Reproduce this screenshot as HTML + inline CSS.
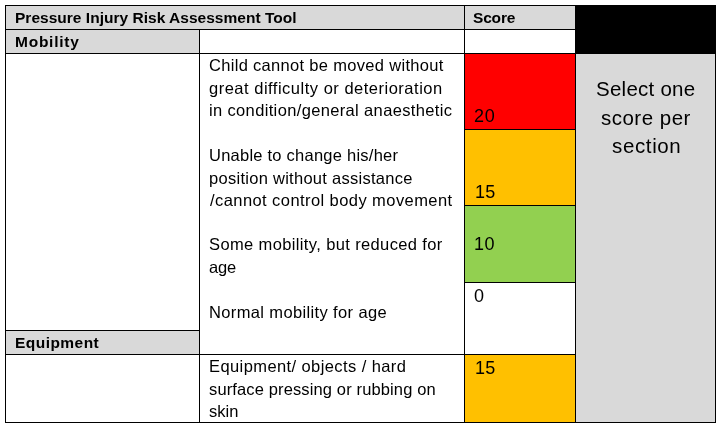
<!DOCTYPE html>
<html><head><meta charset="utf-8"><style>
html,body{margin:0;padding:0;background:#fff;width:721px;height:427px;overflow:hidden;position:relative}
.b{position:absolute}
.t{position:absolute;white-space:pre;will-change:transform;font-family:"Liberation Sans",sans-serif;color:#000}
</style></head><body>
<div class="b" style="left:6px;top:6px;width:569px;height:23px;background:#d9d9d9"></div><div class="b" style="left:6px;top:30px;width:193px;height:23px;background:#d9d9d9"></div><div class="b" style="left:6px;top:331px;width:193px;height:23px;background:#d9d9d9"></div><div class="b" style="left:575px;top:5px;width:141px;height:49px;background:#000"></div><div class="b" style="left:465px;top:54px;width:110px;height:75px;background:#ff0000"></div><div class="b" style="left:465px;top:130px;width:110px;height:75px;background:#ffc000"></div><div class="b" style="left:465px;top:206px;width:110px;height:76px;background:#92d050"></div><div class="b" style="left:465px;top:355px;width:110px;height:67px;background:#ffc000"></div><div class="b" style="left:576px;top:54px;width:139px;height:368px;background:#d9d9d9"></div><div class="b" style="left:5px;top:5px;width:711px;height:1px;background:#000"></div><div class="b" style="left:5px;top:422px;width:711px;height:1px;background:#000"></div><div class="b" style="left:5px;top:5px;width:1px;height:418px;background:#000"></div><div class="b" style="left:715px;top:5px;width:1px;height:418px;background:#000"></div><div class="b" style="left:5px;top:29px;width:571px;height:1px;background:#000"></div><div class="b" style="left:5px;top:53px;width:711px;height:1px;background:#000"></div><div class="b" style="left:464px;top:129px;width:112px;height:1px;background:#000"></div><div class="b" style="left:464px;top:205px;width:112px;height:1px;background:#000"></div><div class="b" style="left:464px;top:282px;width:112px;height:1px;background:#000"></div><div class="b" style="left:5px;top:330px;width:195px;height:1px;background:#000"></div><div class="b" style="left:5px;top:354px;width:571px;height:1px;background:#000"></div><div class="b" style="left:199px;top:29px;width:1px;height:394px;background:#000"></div><div class="b" style="left:464px;top:5px;width:1px;height:418px;background:#000"></div><div class="b" style="left:575px;top:5px;width:1px;height:418px;background:#000"></div>
<div class="t" style="left:14.90px;top:9.68px;font-size:15.5px;line-height:15.5px;font-weight:700;letter-spacing:0.020px">Pressure Injury Risk Assessment Tool</div><div class="t" style="left:473.30px;top:10.48px;font-size:15.5px;line-height:15.5px;font-weight:700;letter-spacing:-0.175px">Score</div><div class="t" style="left:14.90px;top:34.48px;font-size:15.5px;line-height:15.5px;font-weight:700;letter-spacing:0.757px">Mobility</div><div class="t" style="left:14.80px;top:335.28px;font-size:15.5px;line-height:15.5px;font-weight:700;letter-spacing:0.463px">Equipment</div><div class="t" style="left:208.80px;top:56.93px;font-size:16.5px;line-height:16.5px;font-weight:400;letter-spacing:0.311px">Child cannot be moved without</div><div class="t" style="left:208.80px;top:80.33px;font-size:16.5px;line-height:16.5px;font-weight:400;letter-spacing:0.503px">great difficulty or deterioration</div><div class="t" style="left:208.80px;top:101.73px;font-size:16.5px;line-height:16.5px;font-weight:400;letter-spacing:0.352px">in condition/general anaesthetic</div><div class="t" style="left:208.80px;top:146.93px;font-size:16.5px;line-height:16.5px;font-weight:400;letter-spacing:0.239px">Unable to change his/her</div><div class="t" style="left:208.80px;top:170.33px;font-size:16.5px;line-height:16.5px;font-weight:400;letter-spacing:0.277px">position without assistance</div><div class="t" style="left:209.80px;top:191.73px;font-size:16.5px;line-height:16.5px;font-weight:400;letter-spacing:0.425px">/cannot control body movement</div><div class="t" style="left:208.80px;top:236.03px;font-size:16.5px;line-height:16.5px;font-weight:400;letter-spacing:0.372px">Some mobility, but reduced for</div><div class="t" style="left:208.80px;top:259.33px;font-size:16.5px;line-height:16.5px;font-weight:400;letter-spacing:-0.200px">age</div><div class="t" style="left:208.80px;top:303.53px;font-size:16.5px;line-height:16.5px;font-weight:400;letter-spacing:0.364px">Normal mobility for age</div><div class="t" style="left:208.80px;top:357.93px;font-size:16.5px;line-height:16.5px;font-weight:400;letter-spacing:0.408px">Equipment/ objects / hard</div><div class="t" style="left:208.80px;top:381.33px;font-size:16.5px;line-height:16.5px;font-weight:400;letter-spacing:0.131px">surface pressing or rubbing on</div><div class="t" style="left:208.80px;top:402.63px;font-size:16.5px;line-height:16.5px;font-weight:400;letter-spacing:0.033px">skin</div><div class="t" style="left:473.80px;top:106.56px;font-size:18.0px;line-height:18.0px;font-weight:400;letter-spacing:0.700px">20</div><div class="t" style="left:474.50px;top:182.56px;font-size:18.0px;line-height:18.0px;font-weight:400;letter-spacing:0.300px">15</div><div class="t" style="left:474.20px;top:234.56px;font-size:18.0px;line-height:18.0px;font-weight:400;letter-spacing:0.600px">10</div><div class="t" style="left:474.30px;top:286.56px;font-size:18.0px;line-height:18.0px;font-weight:400;letter-spacing:0.000px">0</div><div class="t" style="left:474.50px;top:358.56px;font-size:18.0px;line-height:18.0px;font-weight:400;letter-spacing:0.300px">15</div><div class="t" style="left:596.30px;top:79.05px;font-size:20.5px;line-height:20.5px;font-weight:400;letter-spacing:0.256px">Select one</div><div class="t" style="left:601.20px;top:108.15px;font-size:20.5px;line-height:20.5px;font-weight:400;letter-spacing:0.488px">score per</div><div class="t" style="left:611.90px;top:135.95px;font-size:20.5px;line-height:20.5px;font-weight:400;letter-spacing:0.633px">section</div>
</body></html>
